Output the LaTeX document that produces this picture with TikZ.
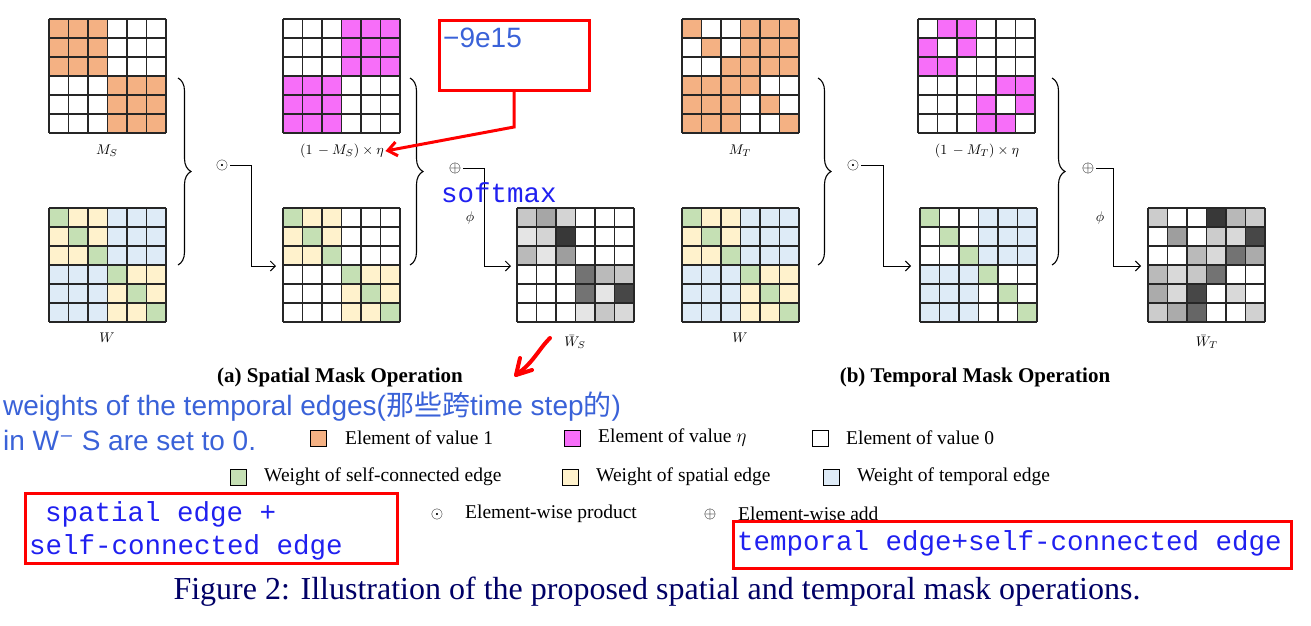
\RequirePackage{fix-cm}
\documentclass[tikz,border=0pt]{standalone}
\usepackage{fontspec}
\setmainfont{Liberation Serif}
\newfontfamily\blsans{Liberation Sans}
\newfontfamily\djv{DejaVu Sans}
\newfontfamily\cjk{Noto Sans CJK SC}
\newfontfamily\mymono{Liberation Mono}
\usetikzlibrary{decorations.pathreplacing,arrows.meta}
\definecolor{cor}{HTML}{F4B183}
\definecolor{cmg}{HTML}{F76EF9}
\definecolor{cgr}{HTML}{C5E0B4}
\definecolor{cye}{HTML}{FFF2CC}
\definecolor{cbl}{HTML}{DEEBF7}
\definecolor{annb}{HTML}{3A62D8}
\definecolor{monob}{HTML}{2020F0}
\newcommand\mygrid[3]{%
  \foreach \c [count=\i from 0] in {#3} {
    \pgfmathtruncatemacro\cc{mod(\i,6)}
    \pgfmathtruncatemacro\rr{int(\i/6)}
    \fill[\c] (#1+\cc*19.5,#2+\rr*19) rectangle ++(19.5,19);
  }
  \foreach \k in {0,...,6} {
    \draw[gridl] (#1+\k*19.5,#2) -- (#1+\k*19.5,#2+114);
    \draw[gridl] (#1,#2+\k*19) -- (#1+117,#2+\k*19);
  }
}
\begin{document}
\begin{tikzpicture}[x=1pt,y=-1pt,
  gridl/.style={line width=1.3pt,black!85},
  lab/.style={scale=1.4,transform shape,inner sep=1pt},
  opf/.style={scale=1.6,transform shape,inner sep=1pt},
  br/.style={decorate,decoration={brace,amplitude=13pt},line width=1.1pt},
  flow/.style={line width=1pt,-{Straight Barb[length=5pt]}},
  leg/.style={font=\fontsize{19.5}{22}\selectfont,anchor=west,inner sep=0},
  legbox/.style={draw,line width=1pt,minimum size=16pt,inner sep=0},
  ann/.style={font=\blsans\fontsize{28}{30}\selectfont,text=annb,anchor=west,inner sep=0},
  monot/.style={font=\mymono\fontsize{27.5}{30}\selectfont,text=monob,anchor=west,inner sep=0},
  redbox/.style={draw=red,line width=3pt}]
\useasboundingbox (0,0) rectangle (1311,625);
% grids (a)
\mygrid{49}{19}{cor,cor,cor,white,white,white,cor,cor,cor,white,white,white,cor,cor,cor,white,white,white,white,white,white,cor,cor,cor,white,white,white,cor,cor,cor,white,white,white,cor,cor,cor}
\mygrid{49}{208}{cgr,cye,cye,cbl,cbl,cbl,cye,cgr,cye,cbl,cbl,cbl,cye,cye,cgr,cbl,cbl,cbl,cbl,cbl,cbl,cgr,cye,cye,cbl,cbl,cbl,cye,cgr,cye,cbl,cbl,cbl,cye,cye,cgr}
\mygrid{283}{19}{white,white,white,cmg,cmg,cmg,white,white,white,cmg,cmg,cmg,white,white,white,cmg,cmg,cmg,cmg,cmg,cmg,white,white,white,cmg,cmg,cmg,white,white,white,cmg,cmg,cmg,white,white,white}
\mygrid{283}{208}{cgr,cye,cye,white,white,white,cye,cgr,cye,white,white,white,cye,cye,cgr,white,white,white,white,white,white,cgr,cye,cye,white,white,white,cye,cgr,cye,white,white,white,cye,cye,cgr}
\mygrid{517}{208}{black!22,black!35,black!17,white,white,white,black!10,black!17,black!78,white,white,white,black!27,black!10,black!38,white,white,white,white,white,white,black!55,black!27,black!22,white,white,white,black!55,black!10,black!72,white,white,white,black!10,black!22,black!15}
% grids (b)
\mygrid{682}{19}{cor,white,white,cor,cor,cor,white,cor,white,cor,cor,cor,white,white,cor,cor,cor,cor,cor,cor,cor,cor,white,white,cor,cor,cor,white,cor,white,cor,cor,cor,white,white,cor}
\mygrid{682}{208}{cgr,cye,cye,cbl,cbl,cbl,cye,cgr,cye,cbl,cbl,cbl,cye,cye,cgr,cbl,cbl,cbl,cbl,cbl,cbl,cgr,cye,cye,cbl,cbl,cbl,cye,cgr,cye,cbl,cbl,cbl,cye,cye,cgr}
\mygrid{918}{19}{white,cmg,cmg,white,white,white,cmg,white,cmg,white,white,white,cmg,cmg,white,white,white,white,white,white,white,white,cmg,cmg,white,white,white,cmg,white,cmg,white,white,white,cmg,cmg,white}
\mygrid{920}{208}{cgr,white,white,cbl,cbl,cbl,white,cgr,white,cbl,cbl,cbl,white,white,cgr,cbl,cbl,cbl,cbl,cbl,cbl,cgr,white,white,cbl,cbl,cbl,white,cgr,white,cbl,cbl,cbl,white,white,cgr}
\mygrid{1148}{208}{black!20,white,white,black!78,black!28,black!20,white,black!38,white,black!20,black!15,black!72,white,white,black!27,black!15,black!55,black!33,black!27,black!15,black!22,black!55,white,white,black!33,black!15,black!72,white,black!15,white,black!20,black!33,black!60,white,white,black!18}
% labels
\node[lab] (lms) at (107,151) {$M_S$};
\node[lab] (lw1) at (107,338) {$W$};
\node[lab] (lis) at (342,151) {$(1\,-M_S)\times\eta$};
\node[lab] (lws) at (575,342) {$\bar{W}_S$};
\node[lab] (lmt) at (740,151) {$M_T$};
\node[lab] (lw2) at (740,338) {$W$};
\node[lab] (lit) at (977,151) {$(1\,-M_T)\times\eta$};
\node[lab] (lwt) at (1207,342) {$\bar{W}_T$};
% braces and operators
\draw[br] (178,78) -- (178,265);
\draw[br] (410,78) -- (410,265);
\draw[br] (818,78) -- (818,265);
\draw[br] (1052,78) -- (1052,265);
\node[opf] (od1) at (222,165) {$\odot$};
\node[opf] (op1) at (455,168) {$\oplus$};
\node[opf] (od2) at (853,165) {$\odot$};
\node[opf] (op2) at (1088,168) {$\oplus$};
\coordinate (t1) at (276,266); \coordinate (t2) at (511,266);
\coordinate (t3) at (911,266); \coordinate (t4) at (1141,266);
\draw[flow] (od1.east) -- (251,165) |- (t1);
\draw[flow] (op1.east) -- (484,168) |- (t2);
\draw[flow] (od2.east) -- (883,165) |- (t3);
\draw[flow] (op2.east) -- (1113,168) |- (t4);
\node[lab] (phi1) at (470,218) {$\phi$};
\node[lab] (phi2) at (1100,218) {$\phi$};
% captions
\node[font=\bfseries\fontsize{21}{24}\selectfont] (capa) at (340,377) {(a) Spatial Mask Operation};
\node[font=\bfseries\fontsize{21}{24}\selectfont] (capb) at (975,377) {(b) Temporal Mask Operation};
% legend
\node[legbox,fill=cor] (lb1) at (318,438) {}; \node[leg] (lt1) at (345,438) {Element of value 1};
\node[legbox,fill=cmg] (lb2) at (572,438) {}; \node[leg] (lt2) at (598,438) {Element of value $\eta$};
\node[legbox,fill=white] (lb3) at (820,438) {}; \node[leg] (lt3) at (846,438) {Element of value 0};
\node[legbox,fill=cgr] (lb4) at (238,477) {}; \node[leg] (lt4) at (264,477) {Weight of self-connected edge};
\node[legbox,fill=cye] (lb5) at (570,477) {}; \node[leg] (lt5) at (596,477) {Weight of spatial edge};
\node[legbox,fill=cbl] (lb6) at (831,477) {}; \node[leg] (lt6) at (857,477) {Weight of temporal edge};
\node[opf] (lb7) at (437,514) {$\odot$}; \node[leg] (lt7) at (465,514) {Element-wise product};
\node[opf] (lb8) at (710,514) {$\oplus$}; \node[leg] (lt8) at (738,514) {Element-wise add};
\node[font=\fontsize{32}{34}\selectfont,text=black!60!blue] (fig) at (657,592) {Figure 2: Illustration of the proposed spatial and temporal mask operations.};
% annotations
\node[redbox,minimum width=150pt,minimum height=70pt,inner sep=0] (rb1) at (514,55) {};
\node[ann] (n9) at (443,38) {−9e15};
\draw[red,line width=3pt,-{Straight Barb[length=9pt,width=14pt]}] (rb1.south) -- (514,127) -- (lis.east);
\node[monot] (smx) at (441,193) {softmax};
\draw[red,line width=4pt,line cap=round,line join=round] (550,338) .. controls (538,350) and (534,362) .. (516,375) -- (520,358);
\draw[red,line width=4pt,line cap=round] (516,375) -- (532,370);
\node[ann] (a1) at (3,407) {weights of the temporal edges({\cjk 那些跨}time step{\cjk 的})};
\node[ann] (a2) at (3,440) {in W{\djv ⁻} S are set to 0.};
\node[redbox,minimum width=372pt,minimum height=70pt,inner sep=0] (rb2) at (211,528) {};
\node[monot] (s1) at (45,514) {spatial edge +};
\node[monot] (s2) at (29,547) {self-connected edge};
\node[redbox,minimum width=558pt,minimum height=47pt,inner sep=0] (rb3) at (1012,545) {};
\node[monot] (s3) at (737,543) {temporal edge+self-connected edge};
\end{tikzpicture}
\end{document}
